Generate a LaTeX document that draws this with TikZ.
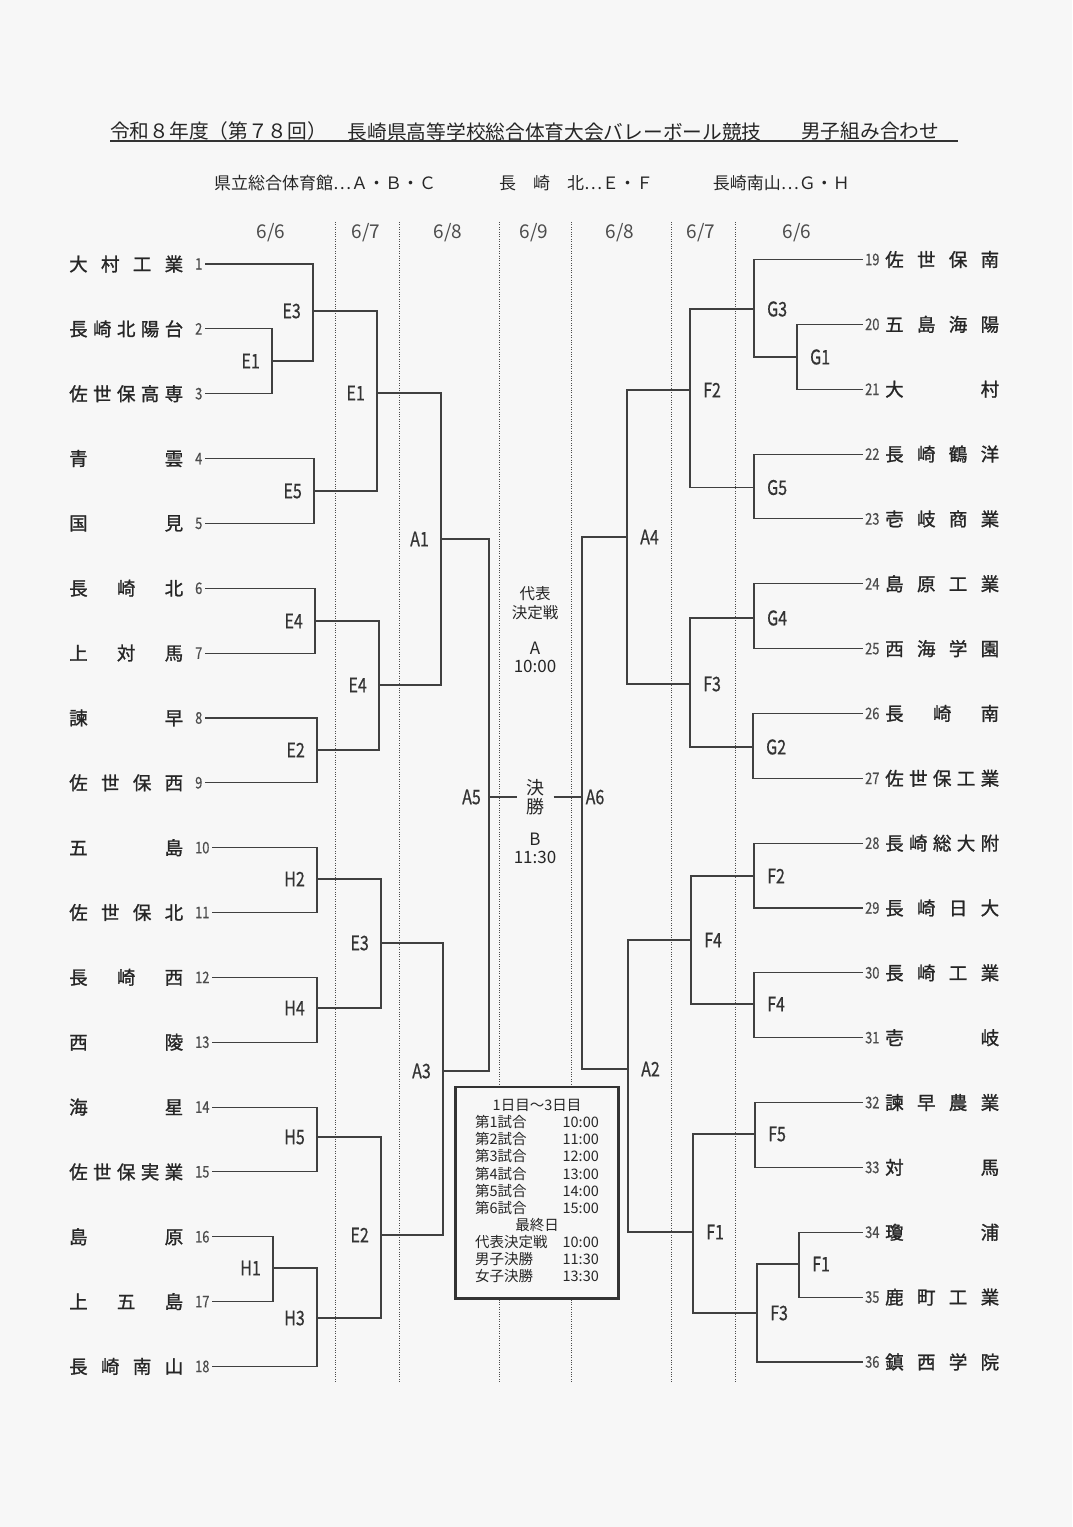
\documentclass[tikz,border=0pt]{standalone}
\usepackage{fontspec}
\setmainfont{Noto Sans CJK JP}
\newfontfamily\narrowfont[FakeStretch=0.8,FakeBold=0.6]{Noto Sans CJK JP}
\newfontfamily\namefont[FakeBold=1.2]{Noto Sans CJK JP}
\newcommand\tmname[1]{\makebox[114pt][s]{#1}}

\begin{document}
\begin{tikzpicture}[x=1pt,y=-1pt,
  br/.style={draw=black!75, line width=1.1pt},
  num/.style={anchor=west, inner xsep=2.5pt, inner ysep=0pt, text=black!70, font=\narrowfont\fontsize{16}{17}\selectfont},
  team/.style={anchor=west, inner sep=0pt, text=black!85, font=\namefont\fontsize{18.5}{20}\selectfont},
  ml/.style={anchor=east, inner xsep=12pt, inner ysep=0pt, text=black!80, font=\narrowfont\fontsize{20}{22}\selectfont},
  mr/.style={ml, anchor=west, inner xsep=13pt},
  head/.style={anchor=west, inner sep=0pt, text=black!85},
  mid/.style={align=center, inner sep=0pt, text=black!85}]
\useasboundingbox (0,0) rectangle (1072,1527);
\fill[white!97!black] (0,0) rectangle (1072,1527);
\foreach \x in {335.5,399,499.5,571,671.5,735}
  \draw[black!70, line width=0.9pt, dash pattern=on 1pt off 1.4pt] (\x,222) -- (\x,1382);

\node[head, font=\fontsize{19.7}{22}\selectfont] (t1) at (110,131.5) {令和８年度（第７８回）};
\node[head, font=\fontsize{19.7}{22}\selectfont] (t2) at (347.6,131.5) {長崎県高等学校総合体育大会バレーボール競技};
\node[head, font=\fontsize{19.7}{22}\selectfont] (t3) at (801,131.5) {男子組み合わせ};
\draw[black!80, line width=1.3pt] (110,141) -- (958,141);
\node[head, font=\fontsize{17}{19}\selectfont] (v1) at (213.8,183) {県立総合体育館…Ａ・Ｂ・Ｃ};
\node[head, font=\fontsize{17}{19}\selectfont] (v2) at (499,183) {長　崎　北…Ｅ・Ｆ};
\node[head, font=\fontsize{17}{19}\selectfont] (v3) at (712.6,183) {長崎南山…Ｇ・Ｈ};
\foreach \x/\d [count=\i] in {271/6,366/7,448/8,534/9,620/8,701/7,797/6}
  \node[text=black!70, font=\fontsize{19}{20}\selectfont] (d\i) at (\x,233) {6/\d};

\foreach \t [count=\i] in {大 村 工 業,長 崎 北 陽 台,佐 世 保 高 専,青 雲,国 見,長 崎 北,上 対 馬,諫 早,佐 世 保 西,五 島,佐 世 保 北,長 崎 西,西 陵,海 星,佐 世 保 実 業,島 原,上 五 島,長 崎 南 山}{
  \node[num] (n\i) at (192.5,{264+(\i-1)*64.85}) {\i};
  \node[team] (s\i) at (69,{264+(\i-1)*64.85}) {\tmname{\t}};
}
\foreach \t [count=\i from 19] in {佐 世 保 南,五 島 海 陽,大 村,長 崎 鶴 洋,壱 岐 商 業,島 原 工 業,西 海 学 園,長 崎 南,佐 世 保 工 業,長 崎 総 大 附,長 崎 日 大,長 崎 工 業,壱 岐,諫 早 農 業,対 馬,瓊 浦,鹿 町 工 業,鎮 西 学 院}{
  \node[num] (n\i) at (862.5,{259.5+(\i-19)*64.85}) {\i};
  \node[team] (s\i) at (885,{259.5+(\i-19)*64.85}) {\tmname{\t}};
}

\node[ml] (e1a) at (272,361) {E1};
\node[ml] (e3a) at (313,311) {E3};
\node[ml] (e5) at (314,491) {E5};
\node[ml] (e4a) at (315,621) {E4};
\node[ml] (e2a) at (317,750) {E2};
\node[ml] (e1b) at (377,393) {E1};
\node[ml] (e4b) at (379,685) {E4};
\node[ml] (a1) at (441,539) {A1};
\node[ml] (h2) at (317,879) {H2};
\node[ml] (h4) at (317,1008) {H4};
\node[ml] (h5) at (317,1137) {H5};
\node[ml] (h1) at (273,1268) {H1};
\node[ml] (h3) at (317,1318) {H3};
\node[ml] (e3b) at (381,943) {E3};
\node[ml] (e2b) at (381,1235) {E2};
\node[ml] (a3) at (443,1071) {A3};
\node[ml, inner xsep=8pt] (a5) at (489,797) {A5};
\foreach \a/\m/\b in {n1/e3a/e1a,n2/e1a/n3,n4/e5/n5,n6/e4a/n7,n8/e2a/n9,e3a/e1b/e5,e4a/e4b/e2a,e1b/a1/e4b,
  n10/h2/n11,n12/h4/n13,n14/h5/n15,n16/h1/n17,h1/h3/n18,h2/e3b/h4,h5/e2b/h3,e3b/a3/e2b,a1/a5/a3}
  \draw[br] (\a.east) -| (\m.east) |- (\b.east);

\node[mr] (g3) at (754,309) {G3};
\node[mr] (g1) at (797,357) {G1};
\node[mr] (g5) at (754,487.5) {G5};
\node[mr] (g4) at (754,618) {G4};
\node[mr] (g2) at (753,747) {G2};
\node[mr] (f2b) at (690,390) {F2};
\node[mr] (f3b) at (690,684) {F3};
\node[mr] (a4) at (627,537) {A4};
\node[mr] (f2a) at (754,876) {F2};
\node[mr] (f4a) at (754,1004) {F4};
\node[mr] (f4b) at (691,940) {F4};
\node[mr] (f5) at (755,1134) {F5};
\node[mr] (f1a) at (799,1264) {F1};
\node[mr] (f3a) at (757,1313) {F3};
\node[mr] (f1b) at (693,1232) {F1};
\node[mr] (a2) at (628,1069) {A2};
\node[mr, inner xsep=3.5pt] (a6) at (582,797) {A6};
\foreach \a/\m/\b in {n19/g3/g1,n20/g1/n21,n22/g5/n23,n24/g4/n25,n26/g2/n27,g3/f2b/g5,g4/f3b/g2,f2b/a4/f3b,
  n28/f2a/n29,n30/f4a/n31,f2a/f4b/f4a,n32/f5/n33,n34/f1a/n35,f1a/f3a/n36,f5/f1b/f3a,f4b/a2/f1b,a4/a6/a2}
  \draw[br] (\a.west) -| (\m.west) |- (\b.west);

\node[mid, inner xsep=9pt, font=\fontsize{18}{19.5}\selectfont] (fin) at (535.5,797) {決\\勝};
\draw[br] (a5.east) -- (fin.west);
\draw[br] (fin.east) -- (a6.west);
\node[mid, font=\fontsize{15.5}{19}\selectfont] (rep) at (535,603.5) {代表\\決定戦};
\node[mid, font=\fontsize{17}{18}\selectfont] (ta) at (535,657) {A\\10:00};
\node[mid, font=\fontsize{17}{18}\selectfont] (tb) at (535,848.5) {B\\11:30};

\node[draw=black!80, line width=2.6pt, fill=white!97!black, minimum width=163pt, minimum height=211.5pt, inner sep=0pt,
  text=black!85, font=\fontsize{14.5}{16.4}\selectfont] (sched) at (537,1192.75) {\begin{tabular}{@{}p{87.5pt}@{}l@{}}
  \multicolumn{2}{c}{1日目～3日目}\\
  第1試合 & 10:00\\ 第2試合 & 11:00\\ 第3試合 & 12:00\\
  第4試合 & 13:00\\ 第5試合 & 14:00\\ 第6試合 & 15:00\\
  \multicolumn{2}{c}{最終日}\\
  代表決定戦 & 10:00\\ 男子決勝 & 11:30\\ 女子決勝 & 13:30
  \end{tabular}};
\end{tikzpicture}
\end{document}
